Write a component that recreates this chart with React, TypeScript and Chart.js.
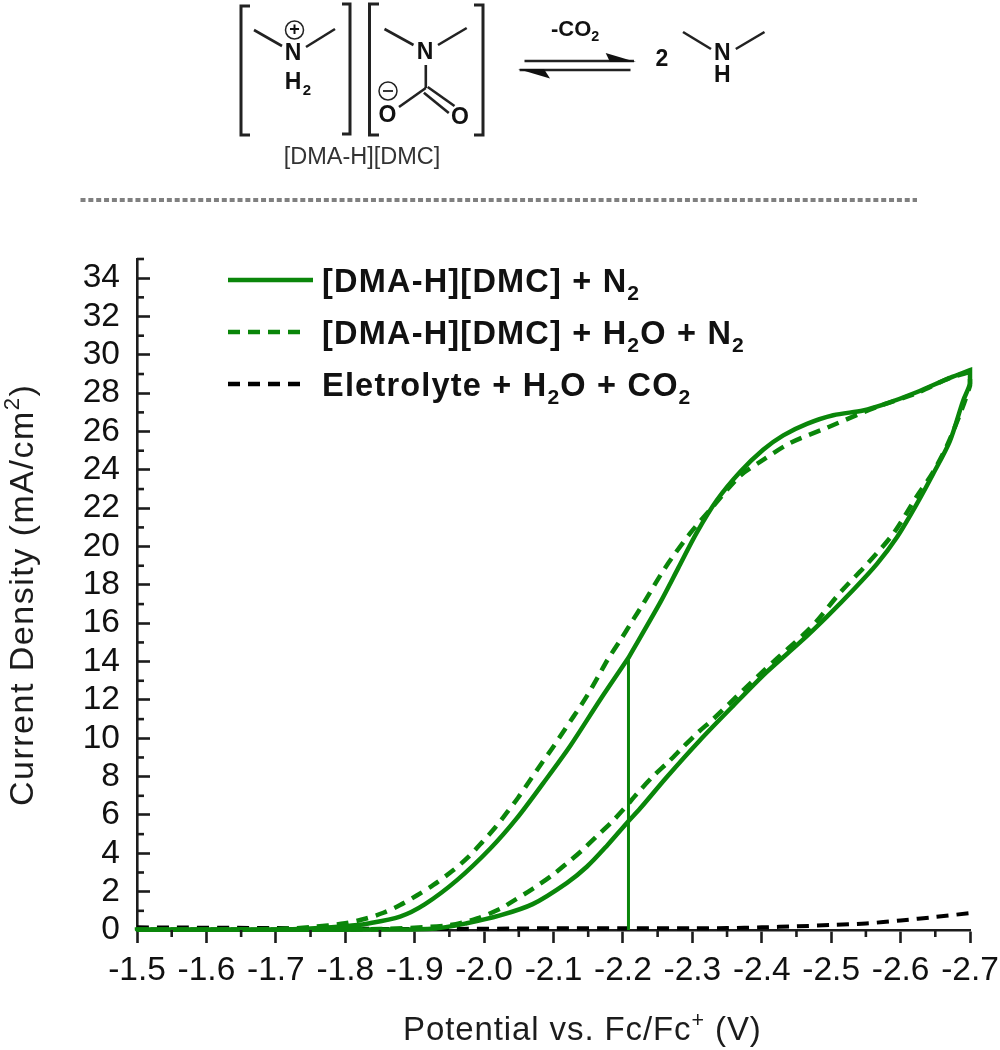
import React, { useEffect, useRef } from "react";
import { Chart, registerables } from "chart.js";

Chart.register(...registerables);

const GREEN = "#0a860a";
const INK = "#1c1c1c";
const FONT = '"Liberation Sans", Arial, sans-serif';

const legendLabels = ["[DMA-H][DMC] + N_2", "[DMA-H][DMC] + H_2O + N_2", "Eletrolyte + H_2O + CO_2"];
const xAxisTitle = "Potential vs. Fc/Fc^+ (V)";
const yAxisTitle = "Current Density (mA/cm^2)";
const schemeCaption = "[DMA-H][DMC]";

const solidV = [-2.208, -2.208, -2.208, -2.254, -2.28, -2.306, -2.335, -2.369, -2.402, -2.431, -2.465, -2.503, -2.546, -2.575, -2.623, -2.671, -2.7, -2.7, -2.7, -2.69, -2.671, -2.647, -2.623, -2.595, -2.566, -2.532, -2.494, -2.455, -2.407, -2.359, -2.311, -2.263, -2.225, -2.206, -2.177, -2.148, -2.119, -2.07, -2.023, -1.975, -1.93, -1.85, -1.7, -1.5, -1.7, -1.75, -1.8, -1.831, -1.879, -1.915, -1.961, -2.009, -2.047, -2.085, -2.124, -2.167, -2.208];
const solidJ = [0, 14.2, 14.2, 17.1, 18.9, 20.7, 22.4, 23.9, 25.05, 25.8, 26.4, 26.85, 27.1, 27.4, 28.05, 28.8, 29.2, 29.2, 28.5, 27.6, 25.5, 23.8, 22.2, 20.5, 19.1, 17.75, 16.35, 15.0, 13.45, 11.7, 9.9, 7.97, 6.35, 5.6, 4.4, 3.3, 2.45, 1.35, 0.76, 0.35, 0.08, 0.02, 0.01, 0.02, 0.03, 0.08, 0.2, 0.33, 0.7, 1.35, 2.6, 4.25, 5.82, 7.65, 9.6, 12.0, 14.2];

const dashedV = [-1.5, -1.7, -1.75, -1.8, -1.83, -1.855, -1.879, -1.903, -1.927, -1.955, -1.977, -1.997, -2.016, -2.033, -2.049, -2.066, -2.083, -2.099, -2.117, -2.132, -2.148, -2.164, -2.178, -2.196, -2.215, -2.229, -2.261, -2.297, -2.33, -2.369, -2.397, -2.441, -2.494, -2.546, -2.575, -2.623, -2.671, -2.7, -2.7, -2.7, -2.671, -2.647, -2.623, -2.59, -2.552, -2.513, -2.479, -2.46, -2.417, -2.373, -2.33, -2.308, -2.287, -2.265, -2.243, -2.22, -2.202, -2.183, -2.162, -2.141, -2.119, -2.098, -2.07, -2.037, -2.023, -1.99, -1.95, -1.85, -1.7, -1.5];
const dashedJ = [0.03, 0.05, 0.15, 0.35, 0.6, 0.9, 1.3, 1.8, 2.35, 3.1, 3.8, 4.57, 5.35, 6.13, 6.9, 7.8, 8.7, 9.52, 10.5, 11.3, 12.2, 13.2, 14.1, 15.1, 16.2, 17.0, 18.9, 20.7, 22.1, 23.7, 24.4, 25.4, 26.2, 27.0, 27.4, 28.0, 28.8, 29.1, 29.1, 28.4, 25.6, 23.9, 22.6, 20.7, 19.1, 17.6, 16.1, 15.4, 14.0, 12.5, 11.0, 10.3, 9.55, 8.75, 8.0, 7.1, 6.34, 5.6, 4.88, 4.15, 3.47, 2.85, 2.15, 1.4, 1.1, 0.6, 0.25, 0.05, 0.02, 0.03];

const blackV = [-1.5, -1.7, -1.9, -2.1, -2.2, -2.3, -2.35, -2.4, -2.45, -2.5, -2.55, -2.6, -2.65, -2.7];
const blackJ = [0.14, 0.1, 0.05, 0.09, 0.09, 0.09, 0.1, 0.14, 0.19, 0.26, 0.34, 0.5, 0.68, 0.88];

const pts = (xs: number[], ys: number[]) => xs.map((x, i) => ({ x, y: ys[i] }));

// Draws text with _x (subscript) and ^x (superscript) markers.
function rich(ctx: CanvasRenderingContext2D, text: string, x: number, y: number, size: number, bold: boolean, spacing = 0, color = INK) {
  const parts = text.split(/([_^].)/).filter(Boolean);
  ctx.save();
  ctx.fillStyle = color;
  ctx.textAlign = "left";
  ctx.textBaseline = "alphabetic";
  (ctx as any).letterSpacing = spacing + "px";
  const w = bold ? "bold " : "";
  let cx = x;
  for (const p of parts) {
    const sub = p[0] === "_";
    const sup = p[0] === "^";
    if (sub || sup) {
      ctx.font = `${w}${size * 0.65}px ${FONT}`;
      const t = p[1];
      ctx.fillText(t, cx, y + (sub ? size * 0.24 : -size * 0.4));
      cx += ctx.measureText(t).width;
    } else {
      ctx.font = `${w}${size}px ${FONT}`;
      ctx.fillText(p, cx, y);
      cx += ctx.measureText(p).width;
    }
  }
  ctx.restore();
  return cx - x;
}

function seg(ctx: CanvasRenderingContext2D, a: number[], width = 2.6) {
  ctx.lineWidth = width;
  ctx.beginPath();
  for (let i = 0; i + 1 < a.length; i += 2) {
    if (i === 0) ctx.moveTo(a[i], a[i + 1]);
    else ctx.lineTo(a[i], a[i + 1]);
  }
  ctx.stroke();
}

function label(ctx: CanvasRenderingContext2D, t: string, x: number, y: number, size = 23) {
  ctx.font = `bold ${size}px ${FONT}`;
  ctx.textAlign = "center";
  ctx.textBaseline = "middle";
  ctx.fillStyle = "#111";
  ctx.fillText(t, x, y);
}

function drawScheme(ctx: CanvasRenderingContext2D) {
  ctx.save();
  ctx.strokeStyle = "#222";
  ctx.lineCap = "butt";
  ctx.lineJoin = "miter";
  // brackets
  seg(ctx, [250, 6, 241, 6, 241, 135, 250, 135], 3);
  seg(ctx, [342, 4, 350, 4, 350, 134, 342, 134], 3);
  seg(ctx, [379, 4, 369.5, 4, 369.5, 135, 379, 135], 3);
  seg(ctx, [474, 5, 483, 5, 483, 135, 474, 135], 3);
  // cation
  seg(ctx, [254, 30, 282, 46]);
  seg(ctx, [335, 29, 306, 47]);
  label(ctx, "N", 293, 54);
  label(ctx, "H", 293, 83);
  ctx.font = `bold 15px ${FONT}`;
  ctx.fillText("2", 307, 91);
  ctx.lineWidth = 1.5;
  ctx.beginPath();
  ctx.arc(294.5, 30, 9, 0, Math.PI * 2);
  ctx.stroke();
  label(ctx, "+", 294.5, 30, 18);
  // anion
  seg(ctx, [384.5, 29, 413.5, 45]);
  seg(ctx, [466.7, 28, 438, 45]);
  label(ctx, "N", 425, 53);
  seg(ctx, [425.8, 65, 425.8, 88]);
  seg(ctx, [425.8, 88, 399, 107]);
  seg(ctx, [427.7, 87, 454.5, 106]);
  seg(ctx, [423.9, 92.7, 448.8, 113]);
  label(ctx, "O", 387.5, 116);
  label(ctx, "O", 460, 118);
  ctx.lineWidth = 1.5;
  ctx.beginPath();
  ctx.arc(388, 91, 9, 0, Math.PI * 2);
  ctx.stroke();
  seg(ctx, [383, 91, 393, 91], 1.8);
  // equilibrium arrows
  seg(ctx, [524.5, 61, 634, 61]);
  seg(ctx, [519.6, 70, 630.5, 70]);
  ctx.fillStyle = "#111";
  ctx.beginPath();
  ctx.moveTo(605.7, 53);
  ctx.lineTo(636, 62);
  ctx.lineTo(610, 62);
  ctx.fill();
  ctx.beginPath();
  ctx.moveTo(518, 69);
  ctx.lineTo(550, 78.5);
  ctx.lineTo(544, 69);
  ctx.fill();
  rich(ctx, "-CO_2", 551, 36, 22, true, 0, "#111");
  label(ctx, "2", 662, 60);
  // amine
  seg(ctx, [683, 32, 711, 49]);
  seg(ctx, [764.5, 32, 735.8, 49]);
  label(ctx, "N", 722.4, 54);
  label(ctx, "H", 722.4, 76);
  // caption
  ctx.font = `23.5px ${FONT}`;
  ctx.textAlign = "center";
  ctx.textBaseline = "alphabetic";
  ctx.fillStyle = "#333";
  ctx.fillText(schemeCaption, 362, 164);
  // separator
  ctx.strokeStyle = "#808080";
  ctx.setLineDash([5, 2.85]);
  seg(ctx, [80.5, 200, 917, 200], 4);
  ctx.restore();
}

const overlay = {
  id: "overlay",
  afterDraw(chart: any) {
    const ctx: CanvasRenderingContext2D = chart.ctx;
    const { x, y } = chart.scales;
    const a = chart.chartArea;
    drawScheme(ctx);

    // minor ticks
    ctx.save();
    ctx.strokeStyle = INK;
    ctx.lineWidth = 2.6;
    for (let i = 0; i < 24; i += 2) {
      const px = x.getPixelForValue(-1.55 - i * 0.05);
      ctx.beginPath();
      ctx.moveTo(px, a.bottom);
      ctx.lineTo(px, a.bottom + 7);
      ctx.stroke();
    }
    for (let v = 1; v <= 35; v += 2) {
      const py = y.getPixelForValue(v);
      ctx.beginPath();
      ctx.moveTo(a.left, py);
      ctx.lineTo(a.left + 7, py);
      ctx.stroke();
    }
    ctx.restore();

    // legend
    const rows = chart.data.datasets;
    const rowY = [280, 332, 384];
    const baseY = [292, 344, 396];
    rows.forEach((d: any, i: number) => {
      ctx.save();
      ctx.strokeStyle = d.borderColor;
      ctx.lineWidth = 4.5;
      ctx.lineCap = "butt";
      ctx.setLineDash(d.borderDash || []);
      ctx.beginPath();
      ctx.moveTo(228, rowY[i]);
      ctx.lineTo(d.borderDash ? 303 : 313, rowY[i]);
      ctx.stroke();
      ctx.restore();
      rich(ctx, legendLabels[i], 322, baseY[i], 32.5, true, 1.2, "#111");
    });

    // axis titles
    rich(ctx, xAxisTitle, 403, 1040, 33, false, 0.9);
    ctx.save();
    ctx.translate(33, 806);
    ctx.rotate(-Math.PI / 2);
    rich(ctx, yAxisTitle, 0, 0, 34, false, 1.5);
    ctx.restore();
  },
};

export default function App() {
  const ref = useRef<HTMLCanvasElement>(null);
  useEffect(() => {
    const chart = new Chart(ref.current!, {
      type: "line",
      data: {
        datasets: [
          {
            label: legendLabels[0],
            data: pts(solidV, solidJ),
            borderColor: GREEN,
            borderWidth: 4.5,
            pointRadius: 0,
            tension: 0.3,
            clip: false,
            segment: { borderWidth: (c: any) => (c.p0DataIndex === 0 ? 3 : undefined) },
          },
          { label: legendLabels[1], data: pts(dashedV, dashedJ), borderColor: GREEN, borderWidth: 4.5, borderDash: [12, 8], pointRadius: 0, tension: 0.3, clip: false },
          { label: legendLabels[2], data: pts(blackV, blackJ), borderColor: "#000", borderWidth: 4, borderDash: [12, 8], pointRadius: 0, tension: 0.3, clip: false },
        ],
      } as any,
      plugins: [overlay],
      options: {
        responsive: false,
        animation: false,
        devicePixelRatio: 1,
        parsing: false,
        layout: { autoPadding: false, padding: { top: 259, right: 30, left: 0, bottom: 0 } },
        plugins: { legend: { display: false }, tooltip: { enabled: false } },
        scales: {
          x: {
            type: "linear",
            reverse: true,
            min: -2.7,
            max: -1.5,
            afterFit: (s: any) => { s.height = 120; s.paddingLeft = 0; s.paddingRight = 0; },
            border: { display: true, color: INK, width: 2.6 },
            grid: { drawOnChartArea: false, tickLength: 13, tickWidth: 2.6, tickColor: INK },
            ticks: {
              stepSize: 0.1,
              includeBounds: false,
              autoSkip: false,
              maxRotation: 0,
              padding: 8,
              color: "#111",
              font: { family: FONT, size: 33.5 },
              callback: (v: any) => Number(v).toFixed(1),
            },
          },
          y: {
            type: "linear",
            min: 0,
            max: 35,
            afterFit: (s: any) => { s.width = 137; s.paddingTop = 0; s.paddingBottom = 0; },
            border: { display: true, color: INK, width: 2.6 },
            grid: { drawOnChartArea: false, tickLength: -13, tickWidth: 2.6, tickColor: INK },
            ticks: {
              stepSize: 2,
              includeBounds: false,
              autoSkip: false,
              padding: 30,
              color: "#111",
              font: { family: FONT, size: 33.5 },
            },
          },
        },
      } as any,
    });
    return () => chart.destroy();
  }, []);
  return <canvas ref={ref} width={1000} height={1050} style={{ position: "absolute", left: 0, top: 0, display: "block" }} />;
}
